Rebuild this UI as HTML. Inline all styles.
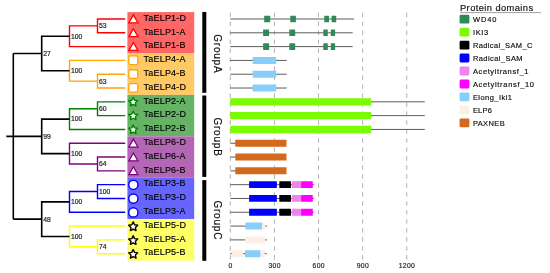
<!DOCTYPE html><html><head><meta charset="utf-8"><title>Phylogenetic tree and protein domains</title>
<style>html,body{margin:0;padding:0;background:#fff}svg{display:block}text{font-family:"Liberation Sans",Arial,sans-serif;stroke:#222;stroke-width:0.18px;paint-order:stroke fill}</style></head><body>
<svg width="550" height="273" viewBox="0 0 550 273">
<rect width="550" height="273" fill="#fff"/>
<rect x="127.4" y="12.10" width="66.8" height="41.41" fill="#ff6666"/>
<rect x="127.4" y="53.51" width="66.8" height="41.41" fill="#ffc966"/>
<rect x="127.4" y="94.93" width="66.8" height="41.41" fill="#66b366"/>
<rect x="127.4" y="136.34" width="66.8" height="41.41" fill="#b366b3"/>
<rect x="127.4" y="177.76" width="66.8" height="41.41" fill="#6666ff"/>
<rect x="127.4" y="219.17" width="66.8" height="41.41" fill="#ffff66"/>
<path d="M125.2 19.00H97.5V32.80H125.2 M97.5 25.90H69.5V46.61H125.2" fill="none" stroke="#ff0000" stroke-width="1.4" stroke-linecap="butt" stroke-linejoin="miter"/>
<path d="M125.2 74.22H97.5V88.03H125.2 M97.5 81.12H69.5V60.41H125.2" fill="none" stroke="#ffa500" stroke-width="1.4" stroke-linecap="butt" stroke-linejoin="miter"/>
<path d="M125.2 101.83H97.5V115.63H125.2 M97.5 108.73H69.5V129.44H125.2" fill="none" stroke="#008000" stroke-width="1.4" stroke-linecap="butt" stroke-linejoin="miter"/>
<path d="M125.2 157.05H97.5V170.85H125.2 M97.5 163.95H69.5V143.25H125.2" fill="none" stroke="#800080" stroke-width="1.4" stroke-linecap="butt" stroke-linejoin="miter"/>
<path d="M125.2 184.66H97.5V198.47H125.2 M97.5 191.56H69.5V212.27H125.2" fill="none" stroke="#0000ff" stroke-width="1.4" stroke-linecap="butt" stroke-linejoin="miter"/>
<path d="M125.2 239.88H97.5V253.69H125.2 M97.5 246.78H69.5V226.07H125.2" fill="none" stroke="#ffff00" stroke-width="1.4" stroke-linecap="butt" stroke-linejoin="miter"/>
<path d="M69.5 36.26H41.7V70.77H69.5 M41.7 53.51H13.3 M69.5 119.09H41.7V153.60H69.5 M41.7 136.34H13.3 M69.5 201.92H41.7V236.43H69.5 M41.7 219.17H13.3 M13.3 53.51V219.17 M6.3 136.34H13.3" fill="none" stroke="#000" stroke-width="1.6" stroke-linecap="butt" stroke-linejoin="miter"/>
<text x="99.0" y="28.30" font-size="6.8" fill="#1a1a1a">53</text>
<text x="71.0" y="38.66" font-size="6.8" fill="#1a1a1a">100</text>
<text x="99.0" y="83.52" font-size="6.8" fill="#1a1a1a">63</text>
<text x="71.0" y="73.17" font-size="6.8" fill="#1a1a1a">100</text>
<text x="99.0" y="111.13" font-size="6.8" fill="#1a1a1a">60</text>
<text x="71.0" y="121.49" font-size="6.8" fill="#1a1a1a">100</text>
<text x="99.0" y="166.35" font-size="6.8" fill="#1a1a1a">64</text>
<text x="71.0" y="156.00" font-size="6.8" fill="#1a1a1a">100</text>
<text x="99.0" y="193.96" font-size="6.8" fill="#1a1a1a">100</text>
<text x="71.0" y="204.32" font-size="6.8" fill="#1a1a1a">100</text>
<text x="99.0" y="249.18" font-size="6.8" fill="#1a1a1a">74</text>
<text x="71.0" y="238.83" font-size="6.8" fill="#1a1a1a">100</text>
<text x="43.2" y="55.91" font-size="6.8" fill="#1a1a1a">27</text>
<text x="43.2" y="138.74" font-size="6.8" fill="#1a1a1a">99</text>
<text x="43.2" y="221.57" font-size="6.8" fill="#1a1a1a">48</text>
<polygon points="133.39999999999998,14.90 137.89999999999998,22.80 128.89999999999998,22.80" fill="#fff" stroke="#ff0000" stroke-width="1.3" stroke-linejoin="miter"/>
<text x="143.6" y="20.80" font-size="9" letter-spacing="0.2" fill="#000">TaELP1-D</text>
<polygon points="133.39999999999998,28.70 137.89999999999998,36.60 128.89999999999998,36.60" fill="#fff" stroke="#ff0000" stroke-width="1.3" stroke-linejoin="miter"/>
<text x="143.6" y="34.60" font-size="9" letter-spacing="0.2" fill="#000">TaELP1-A</text>
<polygon points="133.39999999999998,42.51 137.89999999999998,50.41 128.89999999999998,50.41" fill="#fff" stroke="#ff0000" stroke-width="1.3" stroke-linejoin="miter"/>
<text x="143.6" y="48.41" font-size="9" letter-spacing="0.2" fill="#000">TaELP1-B</text>
<rect x="128.85" y="55.96" width="8.9" height="8.6" rx="1.5" fill="#fff" stroke="#ffa500" stroke-width="1.3"/>
<text x="143.6" y="62.21" font-size="9" letter-spacing="0.2" fill="#000">TaELP4-A</text>
<rect x="128.85" y="69.77" width="8.9" height="8.6" rx="1.5" fill="#fff" stroke="#ffa500" stroke-width="1.3"/>
<text x="143.6" y="76.02" font-size="9" letter-spacing="0.2" fill="#000">TaELP4-B</text>
<rect x="128.85" y="83.58" width="8.9" height="8.6" rx="1.5" fill="#fff" stroke="#ffa500" stroke-width="1.3"/>
<text x="143.6" y="89.83" font-size="9" letter-spacing="0.2" fill="#000">TaELP4-D</text>
<polygon points="133.20,97.43 134.55,100.27 137.67,100.68 135.39,102.84 135.96,105.93 133.20,104.43 130.44,105.93 131.01,102.84 128.73,100.68 131.85,100.27" fill="#fff" stroke="#008000" stroke-width="1.35" stroke-linejoin="round"/>
<text x="143.6" y="103.63" font-size="9" letter-spacing="0.2" fill="#000">TaELP2-A</text>
<polygon points="133.20,111.23 134.55,114.07 137.67,114.48 135.39,116.65 135.96,119.74 133.20,118.23 130.44,119.74 131.01,116.65 128.73,114.48 131.85,114.07" fill="#fff" stroke="#008000" stroke-width="1.35" stroke-linejoin="round"/>
<text x="143.6" y="117.43" font-size="9" letter-spacing="0.2" fill="#000">TaELP2-D</text>
<polygon points="133.20,125.04 134.55,127.88 137.67,128.29 135.39,130.45 135.96,133.54 133.20,132.04 130.44,133.54 131.01,130.45 128.73,128.29 131.85,127.88" fill="#fff" stroke="#008000" stroke-width="1.35" stroke-linejoin="round"/>
<text x="143.6" y="131.24" font-size="9" letter-spacing="0.2" fill="#000">TaELP2-B</text>
<polygon points="133.39999999999998,139.15 137.89999999999998,147.05 128.89999999999998,147.05" fill="#fff" stroke="#800080" stroke-width="1.3" stroke-linejoin="miter"/>
<text x="143.6" y="145.05" font-size="9" letter-spacing="0.2" fill="#000">TaELP6-D</text>
<polygon points="133.39999999999998,152.95 137.89999999999998,160.85 128.89999999999998,160.85" fill="#fff" stroke="#800080" stroke-width="1.3" stroke-linejoin="miter"/>
<text x="143.6" y="158.85" font-size="9" letter-spacing="0.2" fill="#000">TaELP6-A</text>
<polygon points="133.39999999999998,166.75 137.89999999999998,174.66 128.89999999999998,174.66" fill="#fff" stroke="#800080" stroke-width="1.3" stroke-linejoin="miter"/>
<text x="143.6" y="172.66" font-size="9" letter-spacing="0.2" fill="#000">TaELP6-B</text>
<circle cx="133.35" cy="184.81" r="4.6" fill="#fff" stroke="#0000ff" stroke-width="1.4"/>
<text x="143.6" y="186.46" font-size="9" letter-spacing="0.2" fill="#000">TaELP3-B</text>
<circle cx="133.35" cy="198.62" r="4.6" fill="#fff" stroke="#0000ff" stroke-width="1.4"/>
<text x="143.6" y="200.27" font-size="9" letter-spacing="0.2" fill="#000">TaELP3-D</text>
<circle cx="133.35" cy="212.42" r="4.6" fill="#fff" stroke="#0000ff" stroke-width="1.4"/>
<text x="143.6" y="214.07" font-size="9" letter-spacing="0.2" fill="#000">TaELP3-A</text>
<polygon points="133.20,221.92 134.58,224.77 137.72,225.21 135.43,227.40 135.99,230.52 133.20,229.02 130.41,230.52 130.97,227.40 128.68,225.21 131.82,224.77" fill="#fff" stroke="#000" stroke-width="1.4" stroke-linejoin="round"/>
<text x="143.6" y="227.88" font-size="9" letter-spacing="0.2" fill="#000">TaELP5-D</text>
<polygon points="133.20,235.73 134.58,238.58 137.72,239.01 135.43,241.21 135.99,244.32 133.20,242.83 130.41,244.32 130.97,241.21 128.68,239.01 131.82,238.58" fill="#fff" stroke="#000" stroke-width="1.4" stroke-linejoin="round"/>
<text x="143.6" y="241.68" font-size="9" letter-spacing="0.2" fill="#000">TaELP5-A</text>
<polygon points="133.20,249.53 134.58,252.38 137.72,252.82 135.43,255.01 135.99,258.13 133.20,256.63 130.41,258.13 130.97,255.01 128.68,252.82 131.82,252.38" fill="#fff" stroke="#000" stroke-width="1.4" stroke-linejoin="round"/>
<text x="143.6" y="255.49" font-size="9" letter-spacing="0.2" fill="#000">TaELP5-B</text>
<rect x="202.3" y="11.95" width="4.0" height="80.85" fill="#000"/>
<text transform="translate(213.6 53.80) rotate(90)" text-anchor="middle" font-size="10" letter-spacing="0.8" fill="#111">GroupA</text>
<rect x="202.3" y="95.50" width="4.0" height="81.40" fill="#000"/>
<text transform="translate(213.6 137.00) rotate(90)" text-anchor="middle" font-size="10" letter-spacing="0.8" fill="#111">GroupB</text>
<rect x="202.3" y="180.10" width="4.0" height="80.70" fill="#000"/>
<text transform="translate(213.6 220.30) rotate(90)" text-anchor="middle" font-size="10" letter-spacing="0.8" fill="#111">GroupC</text>
<line x1="230.30" y1="12.6" x2="230.30" y2="260" stroke="#a8a8a8" stroke-width="0.9" stroke-dasharray="4.5 4.48"/>
<text x="230.50" y="267.6" font-size="6.8" letter-spacing="0.35" text-anchor="middle" fill="#262626">0</text>
<line x1="274.42" y1="12.6" x2="274.42" y2="260" stroke="#a8a8a8" stroke-width="0.9" stroke-dasharray="4.5 4.48"/>
<text x="274.62" y="267.6" font-size="6.8" letter-spacing="0.35" text-anchor="middle" fill="#262626">300</text>
<line x1="318.54" y1="12.6" x2="318.54" y2="260" stroke="#a8a8a8" stroke-width="0.9" stroke-dasharray="4.5 4.48"/>
<text x="318.74" y="267.6" font-size="6.8" letter-spacing="0.35" text-anchor="middle" fill="#262626">600</text>
<line x1="362.66" y1="12.6" x2="362.66" y2="260" stroke="#a8a8a8" stroke-width="0.9" stroke-dasharray="4.5 4.48"/>
<text x="362.86" y="267.6" font-size="6.8" letter-spacing="0.35" text-anchor="middle" fill="#262626">900</text>
<line x1="406.78" y1="12.6" x2="406.78" y2="260" stroke="#a8a8a8" stroke-width="0.9" stroke-dasharray="4.5 4.48"/>
<text x="406.98" y="267.6" font-size="6.8" letter-spacing="0.35" text-anchor="middle" fill="#262626">1200</text>
<line x1="230.3" y1="19.00" x2="354.2" y2="19.00" stroke="#5c5c5c" stroke-width="1"/>
<rect x="264.2" y="15.70" width="6.00" height="6.6" rx="0.5" fill="#2e8b57"/>
<rect x="290.3" y="15.70" width="5.60" height="6.6" rx="0.5" fill="#2e8b57"/>
<rect x="324.3" y="15.70" width="4.70" height="6.6" rx="0.5" fill="#2e8b57"/>
<rect x="331.6" y="15.70" width="4.60" height="6.6" rx="0.5" fill="#2e8b57"/>
<line x1="230.3" y1="32.80" x2="352.7" y2="32.80" stroke="#5c5c5c" stroke-width="1"/>
<rect x="263.1" y="29.50" width="6.00" height="6.6" rx="0.5" fill="#2e8b57"/>
<rect x="289.3" y="29.50" width="5.90" height="6.6" rx="0.5" fill="#2e8b57"/>
<rect x="323.3" y="29.50" width="4.50" height="6.6" rx="0.5" fill="#2e8b57"/>
<rect x="330.8" y="29.50" width="4.30" height="6.6" rx="0.5" fill="#2e8b57"/>
<line x1="230.3" y1="46.61" x2="352.7" y2="46.61" stroke="#5c5c5c" stroke-width="1"/>
<rect x="263.1" y="43.31" width="6.00" height="6.6" rx="0.5" fill="#2e8b57"/>
<rect x="289.3" y="43.31" width="5.90" height="6.6" rx="0.5" fill="#2e8b57"/>
<rect x="323.3" y="43.31" width="4.50" height="6.6" rx="0.5" fill="#2e8b57"/>
<rect x="330.8" y="43.31" width="4.30" height="6.6" rx="0.5" fill="#2e8b57"/>
<line x1="230.3" y1="60.41" x2="286.7" y2="60.41" stroke="#5c5c5c" stroke-width="1"/>
<rect x="252.7" y="56.91" width="23.50" height="7" rx="0.6" fill="#87cefa"/>
<line x1="230.3" y1="74.22" x2="286.7" y2="74.22" stroke="#5c5c5c" stroke-width="1"/>
<rect x="252.7" y="70.72" width="23.50" height="7" rx="0.6" fill="#87cefa"/>
<line x1="230.3" y1="88.03" x2="286.7" y2="88.03" stroke="#5c5c5c" stroke-width="1"/>
<rect x="252.7" y="84.53" width="23.50" height="7" rx="0.6" fill="#87cefa"/>
<line x1="230.3" y1="101.83" x2="424.8" y2="101.83" stroke="#5c5c5c" stroke-width="1"/>
<rect x="230.3" y="98.13" width="140.80" height="7.4" rx="0.5" fill="#7cfc00"/>
<line x1="230.3" y1="115.63" x2="424.8" y2="115.63" stroke="#5c5c5c" stroke-width="1"/>
<rect x="230.3" y="111.93" width="140.80" height="7.4" rx="0.5" fill="#7cfc00"/>
<line x1="230.3" y1="129.44" x2="424.8" y2="129.44" stroke="#5c5c5c" stroke-width="1"/>
<rect x="230.3" y="125.74" width="140.80" height="7.4" rx="0.5" fill="#7cfc00"/>
<line x1="230.3" y1="143.25" x2="236" y2="143.25" stroke="#5c5c5c" stroke-width="1"/>
<rect x="235.3" y="139.75" width="51.20" height="7" rx="0.5" fill="#d2691e"/>
<line x1="230.3" y1="157.05" x2="236" y2="157.05" stroke="#5c5c5c" stroke-width="1"/>
<rect x="235.3" y="153.55" width="51.20" height="7" rx="0.5" fill="#d2691e"/>
<line x1="230.3" y1="170.85" x2="236" y2="170.85" stroke="#5c5c5c" stroke-width="1"/>
<rect x="235.3" y="167.35" width="51.20" height="7" rx="0.5" fill="#d2691e"/>
<line x1="230.3" y1="184.66" x2="313.8" y2="184.66" stroke="#5c5c5c" stroke-width="1"/>
<rect x="249.1" y="181.26" width="27.80" height="6.8" rx="0.5" fill="#0000ff"/>
<rect x="279.3" y="181.26" width="11.70" height="6.8" rx="0.5" fill="#000000"/>
<rect x="292" y="181.26" width="9.30" height="6.8" rx="0.5" fill="#ee82ee"/>
<rect x="301.1" y="181.26" width="11.70" height="6.8" rx="0.5" fill="#ff00ff"/>
<line x1="230.3" y1="198.47" x2="313.8" y2="198.47" stroke="#5c5c5c" stroke-width="1"/>
<rect x="249.1" y="195.06" width="27.80" height="6.8" rx="0.5" fill="#0000ff"/>
<rect x="279.3" y="195.06" width="11.70" height="6.8" rx="0.5" fill="#000000"/>
<rect x="292" y="195.06" width="9.30" height="6.8" rx="0.5" fill="#ee82ee"/>
<rect x="301.1" y="195.06" width="11.70" height="6.8" rx="0.5" fill="#ff00ff"/>
<line x1="230.3" y1="212.27" x2="313.8" y2="212.27" stroke="#5c5c5c" stroke-width="1"/>
<rect x="249.1" y="208.87" width="27.80" height="6.8" rx="0.5" fill="#0000ff"/>
<rect x="279.3" y="208.87" width="11.70" height="6.8" rx="0.5" fill="#000000"/>
<rect x="292" y="208.87" width="9.30" height="6.8" rx="0.5" fill="#ee82ee"/>
<rect x="301.1" y="208.87" width="11.70" height="6.8" rx="0.5" fill="#ff00ff"/>
<line x1="230.3" y1="226.07" x2="267.0" y2="226.07" stroke="#5c5c5c" stroke-width="1"/>
<rect x="245.5" y="222.57" width="16.50" height="7" rx="0.5" fill="#87cefa"/>
<rect x="262" y="222.57" width="3.40" height="7" rx="0.5" fill="#faf0e6"/>
<line x1="230.3" y1="239.88" x2="267.0" y2="239.88" stroke="#5c5c5c" stroke-width="1"/>
<rect x="245" y="236.38" width="20.30" height="7" rx="0.5" fill="#faf0e6"/>
<line x1="230.3" y1="253.69" x2="266.7" y2="253.69" stroke="#5c5c5c" stroke-width="1"/>
<rect x="231.9" y="250.19" width="11.20" height="7" rx="0.5" fill="#faf0e6"/>
<rect x="244.9" y="250.19" width="15.60" height="7" rx="0.5" fill="#87cefa"/>
<rect x="260.5" y="250.19" width="4.20" height="7" rx="0.5" fill="#faf0e6"/>
<text x="460" y="10.6" font-size="9.3" letter-spacing="0.42" fill="#111">Protein domains</text>
<line x1="460" y1="12.6" x2="541" y2="12.6" stroke="#888" stroke-width="0.8"/>
<rect x="459.6" y="14.70" width="9.8" height="8.8" rx="1.3" fill="#2e8b57"/>
<text x="472.9" y="21.90" font-size="7.5" textLength="23.6" lengthAdjust="spacing" fill="#111">WD40</text>
<rect x="459.6" y="27.67" width="9.8" height="8.8" rx="1.3" fill="#7cfc00"/>
<text x="472.9" y="34.88" font-size="7.5" textLength="15.3" lengthAdjust="spacing" fill="#111">IKI3</text>
<rect x="459.6" y="40.65" width="9.8" height="8.8" rx="1.3" fill="#000000"/>
<text x="472.9" y="47.85" font-size="7.5" textLength="59.5" lengthAdjust="spacing" fill="#111">Radical_SAM_C</text>
<rect x="459.6" y="53.62" width="9.8" height="8.8" rx="1.3" fill="#0000ff"/>
<text x="472.9" y="60.83" font-size="7.5" textLength="49.7" lengthAdjust="spacing" fill="#111">Radical_SAM</text>
<rect x="459.6" y="66.60" width="9.8" height="8.8" rx="1.3" fill="#ee82ee"/>
<text x="472.9" y="73.80" font-size="7.5" textLength="55.5" lengthAdjust="spacing" fill="#111">Acetyltransf_1</text>
<rect x="459.6" y="79.58" width="9.8" height="8.8" rx="1.3" fill="#ff00ff"/>
<text x="472.9" y="86.78" font-size="7.5" textLength="61.1" lengthAdjust="spacing" fill="#111">Acetyltransf_10</text>
<rect x="459.6" y="92.55" width="9.8" height="8.8" rx="1.3" fill="#87cefa"/>
<text x="472.9" y="99.75" font-size="7.5" textLength="39.1" lengthAdjust="spacing" fill="#111">Elong_Iki1</text>
<rect x="459.6" y="105.53" width="9.8" height="8.8" rx="1.3" fill="#faf0e6"/>
<text x="472.9" y="112.73" font-size="7.5" textLength="18.9" lengthAdjust="spacing" fill="#111">ELP6</text>
<rect x="459.6" y="118.50" width="9.8" height="8.8" rx="1.3" fill="#d2691e"/>
<text x="472.9" y="125.70" font-size="7.5" textLength="31.8" lengthAdjust="spacing" fill="#111">PAXNEB</text>
</svg></body></html>
